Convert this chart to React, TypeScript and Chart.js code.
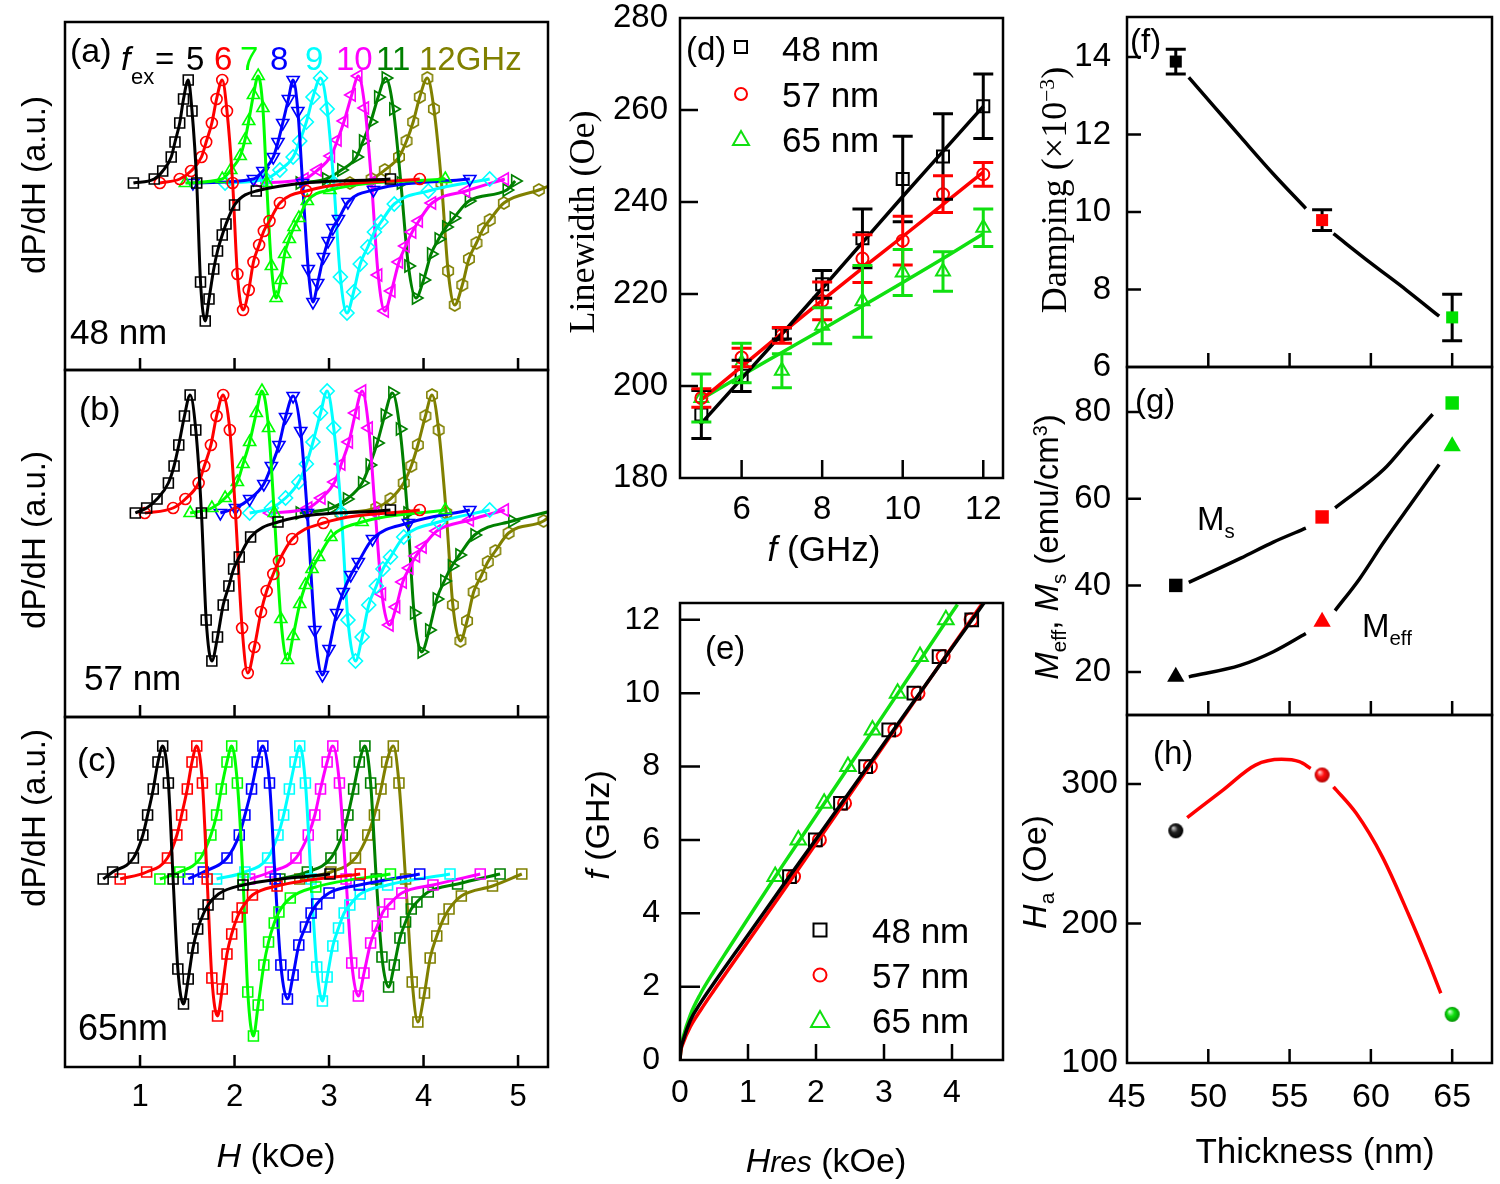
import React, { useEffect, useRef } from "react";
import { Chart, registerables } from "chart.js";
Chart.register(...registerables);

const SANS = '"Liberation Sans", Arial, Helvetica, sans-serif';
const SERIF = '"Liberation Serif", "Times New Roman", Times, serif';

// ---------------- (a) 48 nm : H (kOe) and dP/dH (a.u.) ----------------
const aH5 = [0.93, 1.15, 1.24, 1.33, 1.37, 1.42, 1.46, 1.51, 1.55, 1.60, 1.64, 1.69, 1.73, 1.78, 1.82, 1.87, 1.91, 2.00, 2.23, 3.65];
const aY5 = [0, 0.04, 0.12, 0.26, 0.41, 0.60, 0.84, 1.03, 0.72, 0, -0.99, -1.38, -1.16, -0.86, -0.68, -0.52, -0.41, -0.22, -0.08, 0.04];
const aH6 = [1.21, 1.42, 1.54, 1.65, 1.70, 1.76, 1.81, 1.87, 1.92, 1.98, 2.03, 2.09, 2.15, 2.20, 2.26, 2.31, 2.37, 2.48, 2.76, 3.96];
const aY6 = [0, 0.04, 0.12, 0.26, 0.41, 0.60, 0.84, 1.03, 0.72, 0, -0.91, -1.27, -1.07, -0.79, -0.62, -0.48, -0.38, -0.20, -0.08, 0.04];
const aH7 = [1.48, 1.87, 1.96, 2.06, 2.11, 2.15, 2.20, 2.25, 2.30, 2.34, 2.39, 2.44, 2.49, 2.53, 2.58, 2.63, 2.68, 2.77, 3.01, 4.23];
const aY7 = [0, 0.04, 0.13, 0.27, 0.43, 0.62, 0.88, 1.07, 0.75, 0, -0.83, -1.15, -0.97, -0.71, -0.56, -0.44, -0.35, -0.18, -0.07, 0.04];
const aH8 = [1.56, 2.20, 2.30, 2.41, 2.46, 2.51, 2.57, 2.62, 2.67, 2.72, 2.78, 2.83, 2.88, 2.94, 2.99, 3.04, 3.10, 3.20, 3.47, 4.49];
const aY8 = [0, 0.04, 0.12, 0.26, 0.41, 0.60, 0.84, 1.03, 0.72, 0, -0.86, -1.19, -1.00, -0.74, -0.58, -0.45, -0.36, -0.19, -0.07, 0.04];
const aH9 = [1.90, 2.33, 2.48, 2.62, 2.69, 2.76, 2.83, 2.91, 2.98, 3.05, 3.12, 3.19, 3.26, 3.33, 3.41, 3.48, 3.55, 3.69, 4.05, 4.70];
const aY9 = [0, 0.04, 0.13, 0.26, 0.42, 0.61, 0.86, 1.05, 0.74, 0, -0.94, -1.30, -1.09, -0.81, -0.64, -0.49, -0.39, -0.21, -0.08, 0.04];
const aH10 = [2.27, 2.74, 2.88, 3.02, 3.09, 3.16, 3.24, 3.31, 3.38, 3.45, 3.52, 3.59, 3.66, 3.74, 3.81, 3.88, 3.95, 4.09, 4.45, 4.86];
const aY10 = [0, 0.04, 0.13, 0.27, 0.43, 0.62, 0.88, 1.07, 0.75, 0, -0.92, -1.28, -1.08, -0.79, -0.63, -0.49, -0.38, -0.20, -0.08, 0.04];
const aH11 = [2.69, 2.97, 3.13, 3.29, 3.36, 3.44, 3.52, 3.60, 3.68, 3.76, 3.84, 3.92, 4.00, 4.08, 4.16, 4.24, 4.32, 4.48, 4.88, 4.97];
const aY11 = [0, 0.04, 0.13, 0.26, 0.42, 0.61, 0.86, 1.05, 0.74, 0, -0.83, -1.15, -0.97, -0.71, -0.56, -0.44, -0.35, -0.18, -0.07, 0.02];
const aH12 = [3.22, 3.45, 3.59, 3.74, 3.82, 3.89, 3.96, 4.04, 4.11, 4.19, 4.26, 4.33, 4.41, 4.48, 4.56, 4.63, 4.70, 4.85, 5.22, 5.40];
const aY12 = [0, 0.04, 0.13, 0.26, 0.42, 0.61, 0.86, 1.05, 0.74, 0, -0.88, -1.22, -1.02, -0.76, -0.60, -0.46, -0.37, -0.20, -0.07, 0];

// ---------------- (b) 57 nm ----------------
const bH5 = [0.95, 1.07, 1.18, 1.30, 1.36, 1.41, 1.47, 1.53, 1.59, 1.65, 1.70, 1.76, 1.82, 1.88, 1.94, 1.99, 2.05, 2.17, 2.46, 3.65];
const bY5 = [0, 0.05, 0.14, 0.30, 0.47, 0.68, 0.97, 1.18, 0.83, 0, -1.07, -1.48, -1.24, -0.92, -0.73, -0.56, -0.44, -0.24, -0.09, 0.03];
const bH6 = [1.05, 1.35, 1.48, 1.62, 1.68, 1.75, 1.81, 1.88, 1.95, 2.01, 2.08, 2.14, 2.21, 2.28, 2.34, 2.41, 2.47, 2.61, 2.94, 3.96];
const bY6 = [0, 0.05, 0.14, 0.30, 0.47, 0.68, 0.97, 1.18, 0.83, 0, -1.15, -1.60, -1.34, -0.99, -0.78, -0.61, -0.48, -0.26, -0.10, 0.03];
const bH7 = [1.53, 1.76, 1.90, 2.03, 2.09, 2.16, 2.23, 2.29, 2.36, 2.42, 2.49, 2.56, 2.62, 2.69, 2.75, 2.82, 2.89, 3.02, 3.35, 4.23];
const bY7 = [0, 0.05, 0.15, 0.31, 0.49, 0.71, 1.00, 1.22, 0.85, 0, -1.06, -1.47, -1.23, -0.91, -0.72, -0.56, -0.44, -0.24, -0.09, 0.03];
const bH8 = [1.85, 2.01, 2.16, 2.31, 2.39, 2.47, 2.54, 2.62, 2.70, 2.77, 2.85, 2.93, 3.00, 3.08, 3.15, 3.23, 3.31, 3.46, 3.84, 4.49];
const bY8 = [0, 0.05, 0.14, 0.29, 0.47, 0.68, 0.96, 1.17, 0.82, 0, -1.17, -1.62, -1.36, -1.00, -0.79, -0.62, -0.49, -0.26, -0.10, 0.03];
const bH9 = [2.16, 2.39, 2.54, 2.68, 2.76, 2.83, 2.91, 2.98, 3.05, 3.13, 3.20, 3.28, 3.35, 3.42, 3.50, 3.57, 3.65, 3.79, 4.16, 4.70];
const bY9 = [0, 0.05, 0.15, 0.31, 0.49, 0.71, 1.00, 1.22, 0.85, 0, -1.07, -1.48, -1.24, -0.92, -0.73, -0.56, -0.44, -0.24, -0.09, 0.03];
const bH10 = [2.38, 2.78, 2.92, 3.06, 3.13, 3.21, 3.28, 3.35, 3.42, 3.49, 3.56, 3.64, 3.71, 3.78, 3.85, 3.92, 3.99, 4.14, 4.49, 4.86];
const bY10 = [0, 0.05, 0.15, 0.31, 0.49, 0.71, 1.00, 1.22, 0.85, 0, -0.81, -1.12, -0.94, -0.69, -0.55, -0.43, -0.34, -0.18, -0.07, 0.03];
const bH11 = [2.69, 3.03, 3.19, 3.35, 3.43, 3.51, 3.59, 3.67, 3.75, 3.83, 3.90, 3.98, 4.06, 4.14, 4.22, 4.30, 4.38, 4.54, 4.94, 5.40];
const bY11 = [0, 0.05, 0.14, 0.30, 0.48, 0.70, 0.98, 1.20, 0.84, 0, -1.00, -1.39, -1.17, -0.86, -0.68, -0.53, -0.42, -0.22, -0.08, 0.03];
const bH12 = [3.12, 3.50, 3.65, 3.79, 3.87, 3.94, 4.02, 4.09, 4.16, 4.24, 4.31, 4.39, 4.46, 4.53, 4.61, 4.68, 4.76, 4.90, 5.27, 5.40];
const bY12 = [0, 0.05, 0.14, 0.30, 0.47, 0.68, 0.97, 1.18, 0.83, 0, -0.92, -1.28, -1.08, -0.79, -0.63, -0.49, -0.38, -0.20, -0.08, 0.02];

// ---------------- (c) 65 nm ----------------
const cH5 = [0.61, 0.71, 0.93, 1.03, 1.08, 1.14, 1.19, 1.24, 1.30, 1.35, 1.40, 1.46, 1.51, 1.56, 1.61, 1.67, 1.72, 1.83, 2.09, 3.01];
const cY5 = [0, 0.07, 0.21, 0.44, 0.64, 0.90, 1.17, 1.33, 0.96, 0, -0.90, -1.25, -1.00, -0.69, -0.50, -0.35, -0.26, -0.15, -0.06, 0.05];
const cH6 = [0.79, 1.07, 1.29, 1.39, 1.44, 1.50, 1.55, 1.60, 1.66, 1.71, 1.76, 1.82, 1.87, 1.92, 1.97, 2.03, 2.08, 2.19, 2.45, 3.33];
const cY6 = [0, 0.07, 0.21, 0.44, 0.64, 0.90, 1.17, 1.33, 0.96, 0, -0.99, -1.37, -1.10, -0.75, -0.55, -0.38, -0.29, -0.16, -0.07, 0.05];
const cH7 = [1.21, 1.42, 1.64, 1.75, 1.81, 1.86, 1.92, 1.97, 2.03, 2.09, 2.14, 2.20, 2.25, 2.31, 2.36, 2.42, 2.47, 2.59, 2.86, 3.65];
const cY7 = [0, 0.07, 0.21, 0.44, 0.64, 0.90, 1.17, 1.33, 0.96, 0, -1.13, -1.57, -1.26, -0.86, -0.63, -0.44, -0.33, -0.19, -0.08, 0.05];
const cH8 = [1.51, 1.67, 1.92, 2.05, 2.11, 2.18, 2.24, 2.30, 2.37, 2.43, 2.49, 2.56, 2.62, 2.68, 2.75, 2.81, 2.87, 3.00, 3.32, 3.96];
const cY8 = [0, 0.07, 0.21, 0.44, 0.64, 0.90, 1.17, 1.33, 0.96, 0, -0.86, -1.20, -0.96, -0.66, -0.48, -0.34, -0.25, -0.14, -0.06, 0.05];
const cH9 = [1.81, 2.11, 2.35, 2.46, 2.52, 2.58, 2.64, 2.69, 2.75, 2.81, 2.87, 2.93, 2.98, 3.04, 3.10, 3.16, 3.22, 3.33, 3.62, 4.28];
const cY9 = [0, 0.07, 0.21, 0.44, 0.64, 0.90, 1.17, 1.33, 0.96, 0, -0.88, -1.22, -0.98, -0.67, -0.49, -0.34, -0.26, -0.15, -0.06, 0.05];
const cH10 = [2.16, 2.38, 2.65, 2.78, 2.85, 2.91, 2.98, 3.04, 3.11, 3.18, 3.24, 3.31, 3.37, 3.44, 3.51, 3.57, 3.64, 3.77, 4.10, 4.60];
const cY10 = [0, 0.07, 0.21, 0.44, 0.64, 0.90, 1.17, 1.33, 0.96, 0, -0.84, -1.17, -0.94, -0.64, -0.47, -0.33, -0.25, -0.14, -0.06, 0.05];
const cH11 = [2.48, 2.77, 3.02, 3.14, 3.20, 3.26, 3.32, 3.38, 3.44, 3.50, 3.56, 3.63, 3.69, 3.75, 3.81, 3.87, 3.93, 4.05, 4.36, 4.81];
const cY11 = [0, 0.07, 0.21, 0.44, 0.64, 0.90, 1.17, 1.33, 0.96, 0, -0.78, -1.08, -0.86, -0.59, -0.43, -0.30, -0.23, -0.13, -0.05, 0.05];
const cH12 = [2.69, 3.02, 3.28, 3.41, 3.48, 3.55, 3.61, 3.68, 3.74, 3.81, 3.88, 3.94, 4.01, 4.07, 4.14, 4.21, 4.27, 4.40, 4.73, 5.04];
const cY12 = [0, 0.07, 0.21, 0.44, 0.64, 0.90, 1.17, 1.33, 0.96, 0, -1.03, -1.43, -1.14, -0.79, -0.57, -0.40, -0.30, -0.17, -0.07, 0.05];

const hTicks = [1, 2, 3, 4, 5];

// ---------------- (d) linewidth vs f ----------------
const dFreq = [5, 6, 7, 8, 9, 10, 11, 12];
const lw48 = [193.8, 202.2, 211.4, 222.1, 232.1, 245.0, 249.9, 260.8];
const lw48Err = [5.2, 3.4, 1.2, 3.0, 6.4, 9.3, 9.3, 7.0];
const lw57 = [197.4, 206.2, 211.0, 218.5, 227.7, 231.6, 241.7, 246.0];
const lw57Err = [2.0, 2.0, 1.7, 4.1, 5.2, 5.3, 4.0, 2.6];
const lw65 = [197.4, 205.0, 203.3, 213.1, 218.4, 224.7, 224.9, 234.4];
const lw65Err = [5.2, 4.3, 3.7, 3.9, 7.8, 5.0, 4.3, 4.1];
const dFitF = [4.97, 6, 7, 8, 9, 10, 11, 12];
const dFit48 = [191.6, 201.6, 211.3, 221.2, 231.2, 241.2, 251.0, 260.8];
const dFit57 = [196.8, 204.2, 211.5, 218.6, 225.6, 232.5, 239.5, 246.5];
const dFit65 = [197.0, 202.3, 207.3, 212.3, 217.4, 222.5, 227.7, 233.1];
const dXTicks = [6, 8, 10, 12];
const dYTicks = [180, 200, 220, 240, 260, 280];

// ---------------- (e) f vs Hres ----------------
const eFreq = [5, 6, 7, 8, 9, 10, 11, 12];
const eH48 = [1.61, 1.99, 2.36, 2.73, 3.07, 3.44, 3.81, 4.29];
const eH57 = [1.67, 2.05, 2.42, 2.80, 3.16, 3.50, 3.87, 4.28];
const eH65 = [1.40, 1.74, 2.12, 2.47, 2.83, 3.20, 3.53, 3.91];
const kH48 = [0, 0.01, 0.05, 0.15, 0.3, 0.5, 0.8, 1.0, 1.5, 2.0, 3.0, 4.0, 4.47];
const kF48 = [0, 0.25, 0.55, 1.07, 1.55, 2.10, 2.89, 3.41, 4.72, 6.02, 8.63, 11.24, 12.46];
const kH57 = [0, 0.01, 0.05, 0.15, 0.3, 0.5, 0.8, 1.0, 1.5, 2.0, 3.0, 4.0, 4.45];
const kF57 = [0, 0.22, 0.48, 0.9, 1.35, 1.9, 2.7, 3.23, 4.56, 5.9, 8.58, 11.26, 12.46];
const kH65 = [0, 0.01, 0.05, 0.15, 0.3, 0.5, 0.7, 1.0, 1.5, 2.0, 3.0, 4.0, 4.08];
const kF65 = [0, 0.28, 0.64, 1.22, 1.8, 2.42, 3.0, 3.86, 5.28, 6.66, 9.43, 12.2, 12.42];
const eXTicks = [0, 1, 2, 3, 4];
const eYTicks = [0, 2, 4, 6, 8, 10, 12];

// ---------------- (f) (g) (h) vs thickness ----------------
const thick = [48, 57, 65];
const damping = [13.88, 9.79, 7.28];
const dampErr = [0.32, 0.27, 0.6];
const dampFitT = [48.8, 50.4, 52.0, 54.0, 56.0, 56.9, 57.7, 60.0, 62.2, 64.2];
const dampFitV = [13.47, 12.70, 11.93, 10.98, 10.09, null, 9.44, 8.68, 7.98, 7.31];
const msVals = [40.0, 55.8, 82.1];
const meffVals = [18.9, 31.6, 72.1];
const msFitT = [48.8, 52.0, 54.0, 56.0, 56.9, 57.8, 60.8, 62.3, 63.8];
const msFitV = [40.7, 46.3, 50.0, 53.2, null, 57.9, 66.8, 73.2, 79.5];
const meffFitT = [48.8, 52.0, 54.0, 56.0, 56.9, 57.8, 59.3, 60.8, 62.5, 64.2];
const meffFitV = [18.9, 21.6, 24.7, 28.9, null, 34.2, 41.5, 50.0, 59.0, 67.9];
const haVals = [266.5, 306.5, 134.9];
const haFitT = [48.7, 50.9, 52.9, 54.5, 55.6, 56.3, 57.0, 57.7, 59.1, 60.7, 62.3, 63.5, 64.3];
const haFitV = [276, 295.7, 313.6, 317.7, 316, 311.2, null, 298, 279, 248, 207, 173.7, 150];
const tXTicks = [45, 50, 55, 60, 65];
const tXMarks = [50, 55, 60, 65];

// ---------------- styles ----------------
const FREQ_COLORS = ["#000000", "#ff0000", "#00ff00", "#0000ff", "#00ffff", "#ff00ff", "#008000", "#808000"];
const T_COLORS = ["#000000", "#ff0000", "#00e000"];
const GREEN = "#10e010";

const zip = (xs: number[], ys: (number | null)[]) => xs.map((x, i) => ({ x, y: ys[i] }));

function makeHex(color: string, r: number): HTMLCanvasElement {
  const s = Math.ceil(r * 2 + 4);
  const c = document.createElement("canvas");
  c.width = s; c.height = s;
  const g = c.getContext("2d")!;
  g.strokeStyle = color; g.lineWidth = 1.6;
  g.beginPath();
  for (let k = 0; k < 6; k++) {
    const a = Math.PI / 6 + (k * Math.PI) / 3;
    const px = s / 2 + r * Math.cos(a), py = s / 2 + r * Math.sin(a);
    if (k === 0) g.moveTo(px, py); else g.lineTo(px, py);
  }
  g.closePath(); g.stroke();
  return c;
}

function makeBall(light: string, mid: string, dark: string, r: number): HTMLCanvasElement {
  const s = Math.ceil(r * 2 + 2);
  const c = document.createElement("canvas");
  c.width = s; c.height = s;
  const g = c.getContext("2d")!;
  const grad = g.createRadialGradient(s / 2 - r * 0.35, s / 2 - r * 0.4, r * 0.05, s / 2, s / 2, r);
  grad.addColorStop(0, light); grad.addColorStop(0.45, mid); grad.addColorStop(1, dark);
  g.fillStyle = grad;
  g.beginPath(); g.arc(s / 2, s / 2, r, 0, Math.PI * 2); g.fill();
  return c;
}

// ---------------- plugins ----------------
const framePlugin = {
  id: "frame",
  afterDraw(chart: any, _a: any, opts: any) {
    const { ctx, chartArea: a, scales } = chart;
    ctx.save();
    ctx.strokeStyle = "#000";
    ctx.lineWidth = 2.5;
    ctx.beginPath();
    (opts.xMarks || []).forEach((v: number) => {
      const px = scales.x.getPixelForValue(v);
      ctx.moveTo(px, a.bottom); ctx.lineTo(px, a.bottom - opts.xLen);
    });
    (opts.yMarks || []).forEach((v: number) => {
      const py = scales.y.getPixelForValue(v);
      ctx.moveTo(a.left, py); ctx.lineTo(a.left + opts.yLen, py);
    });
    ctx.stroke();
    ctx.strokeRect(a.left, a.top, a.right - a.left, a.bottom - a.top);
    ctx.restore();
  },
};

function drawErr(chart: any, behind: boolean) {
  const { ctx, scales } = chart;
  chart.data.datasets.forEach((ds: any) => {
    if (!ds.errors || !!ds.errBehind !== behind) return;
    ctx.save();
    ctx.strokeStyle = ds.errColor || ds.pointBorderColor;
    ctx.lineWidth = ds.errWidth || 3;
    const cap = ds.capHalf || 10;
    ds.data.forEach((p: any, j: number) => {
      const e = ds.errors[j];
      if (e == null || p.y == null) return;
      const x = scales.x.getPixelForValue(p.x);
      const y1 = scales.y.getPixelForValue(p.y + e);
      const y2 = scales.y.getPixelForValue(p.y - e);
      ctx.beginPath();
      ctx.moveTo(x, y1); ctx.lineTo(x, y2);
      ctx.moveTo(x - cap, y1); ctx.lineTo(x + cap, y1);
      ctx.moveTo(x - cap, y2); ctx.lineTo(x + cap, y2);
      ctx.stroke();
    });
    ctx.restore();
  });
}
const errPlugin = {
  id: "errbars",
  beforeDatasetsDraw(chart: any) { drawErr(chart, true); },
  afterDatasetsDraw(chart: any) { drawErr(chart, false); },
};

// ---------------- config builder ----------------
type Rect = { x: number; y: number; w: number; h: number };
type Frame = { l: number; t: number; r: number; b: number };
interface Spec {
  frame: Frame;
  x: [number, number];
  y: [number, number];
  xLabels?: number[]; yLabels?: number[];
  xFont?: number; yFont?: number; xPad?: number; yPad?: number;
  xMarks?: number[]; yMarks?: number[]; xLen?: number; yLen?: number;
  datasets: any[];
}

function zeroPad(s: any) {
  s.paddingTop = 0; s.paddingBottom = 0; s.paddingLeft = 0; s.paddingRight = 0;
}

function buildConfig(rect: Rect, p: Spec): any {
  const L = p.frame.l - rect.x, T = p.frame.t - rect.y;
  const R = rect.x + rect.w - p.frame.r, B = rect.y + rect.h - p.frame.b;
  const xShow = !!p.xLabels, yShow = !!p.yLabels;
  return {
    type: "line",
    data: { datasets: p.datasets },
    options: {
      animation: false,
      responsive: false,
      maintainAspectRatio: false,
      devicePixelRatio: 1,
      events: [],
      layout: { autoPadding: false, padding: { left: yShow ? 0 : L, right: R, top: T, bottom: xShow ? 0 : B } },
      plugins: {
        legend: { display: false },
        tooltip: { enabled: false },
        frame: { xMarks: p.xMarks || [], yMarks: p.yMarks || [], xLen: p.xLen || 12, yLen: p.yLen || 12 },
      },
      scales: {
        x: {
          type: "linear", position: "bottom", min: p.x[0], max: p.x[1], display: xShow,
          grid: { display: false, drawTicks: false }, border: { display: false },
          ticks: { font: { family: SANS, size: p.xFont || 30 }, color: "#000", padding: p.xPad ?? 12, maxRotation: 0, minRotation: 0, autoSkip: false },
          afterBuildTicks: (s: any) => { s.ticks = (p.xLabels || []).map((v) => ({ value: v })); },
          afterFit: (s: any) => { s.height = xShow ? B : 0; zeroPad(s); },
        },
        y: {
          type: "linear", position: "left", min: p.y[0], max: p.y[1], display: yShow,
          grid: { display: false, drawTicks: false }, border: { display: false },
          ticks: { font: { family: SANS, size: p.yFont || 30 }, color: "#000", padding: p.yPad ?? 12, autoSkip: false },
          afterBuildTicks: (s: any) => { s.ticks = (p.yLabels || []).map((v) => ({ value: v })); },
          afterFit: (s: any) => { s.width = yShow ? L : 0; zeroPad(s); },
        },
      },
    },
    plugins: [framePlugin, errPlugin],
  };
}

function Panel({ rect, make }: { rect: Rect; make: () => Spec }) {
  const ref = useRef<HTMLCanvasElement>(null);
  useEffect(() => {
    const chart = new Chart(ref.current as HTMLCanvasElement, buildConfig(rect, make()));
    return () => chart.destroy();
  }, []);
  return (
    <canvas
      ref={ref}
      width={rect.w}
      height={rect.h}
      style={{ position: "absolute", left: rect.x, top: rect.y, width: rect.w, height: rect.h }}
    />
  );
}

// ---------------- dataset helpers ----------------
function curve(xs: number[], ys: number[], color: string, style: any, rot: number, r: number) {
  return {
    data: zip(xs, ys),
    borderColor: color,
    borderWidth: 3,
    cubicInterpolationMode: "monotone",
    pointStyle: style,
    pointRotation: rot,
    pointRadius: r,
    pointBorderColor: color,
    pointBackgroundColor: "rgba(0,0,0,0)",
    pointBorderWidth: 1.6,
    showLine: true,
    fill: false,
  };
}
function fitLine(xs: number[], ys: (number | null)[], color: string, w = 3.5) {
  return {
    data: zip(xs, ys),
    borderColor: color,
    borderWidth: w,
    cubicInterpolationMode: "monotone",
    pointRadius: 0,
    showLine: true,
    spanGaps: false,
    fill: false,
  };
}
function markers(xs: number[], ys: number[], color: string, style: any, r: number, filled: boolean, extra: any = {}) {
  return {
    data: zip(xs, ys),
    showLine: false,
    pointStyle: style,
    pointRadius: r,
    pointBorderColor: color,
    pointBackgroundColor: filled ? color : "rgba(0,0,0,0)",
    pointBorderWidth: filled ? 0 : 2,
    borderColor: color,
    ...extra,
  };
}

const H_RANGE: [number, number] = [0.206, 5.317];

function abDatasets(series: number[][][]) {
  const ms: [any, number, number][] = [
    ["rect", 0, 7], ["circle", 0, 5.5], ["triangle", 0, 7], ["triangle", 180, 7],
    ["rectRot", 0, 7], ["triangle", 270, 7], ["triangle", 90, 7], [makeHex(FREQ_COLORS[7], 6), 0, 7],
  ];
  return series.map(([hs, ys], i) => curve(hs, ys, FREQ_COLORS[i], ms[i][0], ms[i][1], ms[i][2]));
}

const RECT_A: Rect = { x: 0, y: 0, w: 560, h: 380 };
const RECT_B: Rect = { x: 0, y: 360, w: 560, h: 367 };
const RECT_C: Rect = { x: 0, y: 707, w: 560, h: 477 };
const RECT_D: Rect = { x: 560, y: 0, w: 450, h: 545 };
const RECT_E: Rect = { x: 560, y: 580, w: 450, h: 560 };
const RECT_F: Rect = { x: 1010, y: 0, w: 490, h: 392 };
const RECT_G: Rect = { x: 1010, y: 357, w: 490, h: 368 };
const RECT_H: Rect = { x: 1010, y: 705, w: 490, h: 479 };

const specA = (): Spec => ({
  frame: { l: 65, t: 22, r: 548, b: 370 }, x: H_RANGE, y: [-1.87, 1.61], xMarks: hTicks, xLen: 12,
  datasets: abDatasets([[aH5, aY5], [aH6, aY6], [aH7, aY7], [aH8, aY8], [aH9, aY9], [aH10, aY10], [aH11, aY11], [aH12, aY12]]),
});
const specB = (): Spec => ({
  frame: { l: 65, t: 370, r: 548, b: 717 }, x: H_RANGE, y: [-2.04, 1.43], xMarks: hTicks, xLen: 12,
  datasets: abDatasets([[bH5, bY5], [bH6, bY6], [bH7, bY7], [bH8, bY8], [bH9, bY9], [bH10, bY10], [bH11, bY11], [bH12, bY12]]),
});
const specC = (): Spec => ({
  frame: { l: 65, t: 717, r: 548, b: 1067 }, x: H_RANGE, y: [-1.88, 1.62], xMarks: hTicks, xLen: 12,
  xLabels: hTicks, xFont: 31, xPad: 12,
  datasets: [[cH5, cY5], [cH6, cY6], [cH7, cY7], [cH8, cY8], [cH9, cY9], [cH10, cY10], [cH11, cY11], [cH12, cY12]].map(
    ([hs, ys], i) => curve(hs, ys, FREQ_COLORS[i], "rect", 0, 7)
  ),
});
const specD = (): Spec => ({
  frame: { l: 680, t: 18, r: 1003, b: 478 }, x: [4.47, 12.49], y: [180, 280],
  xLabels: dXTicks, yLabels: dYTicks, xFont: 33, yFont: 33, xPad: 12, yPad: 12,
  xMarks: dXTicks, yMarks: [200, 220, 240, 260], xLen: 18, yLen: 18,
  datasets: [
    fitLine(dFitF, dFit48, "#000"),
    fitLine(dFitF, dFit57, "#ff0000"),
    fitLine(dFitF, dFit65, GREEN),
    markers(dFreq, lw48, "#000", "rect", 8.5, false, { errors: lw48Err, errColor: "#000", capHalf: 10 }),
    markers(dFreq, lw57, "#ff0000", "circle", 6, false, { errors: lw57Err, errColor: "#ff0000", capHalf: 10 }),
    markers(dFreq, lw65, GREEN, "triangle", 8, false, { errors: lw65Err, errColor: GREEN, capHalf: 10 }),
  ],
});
const specE = (): Spec => ({
  frame: { l: 680, t: 603, r: 1003, b: 1060 }, x: [0, 4.75], y: [0, 12.46],
  xLabels: eXTicks, yLabels: eYTicks, xFont: 32, yFont: 32, xPad: 14, yPad: 20,
  xMarks: [1, 2, 3, 4], yMarks: [2, 4, 6, 8, 10, 12], xLen: 16, yLen: 20,
  datasets: [
    fitLine(kH48, kF48, "#000"),
    fitLine(kH57, kF57, "#ff0000"),
    fitLine(kH65, kF65, GREEN),
    markers(eH48, eFreq, "#000", "rect", 9, false),
    markers(eH57, eFreq, "#ff0000", "circle", 6.5, false),
    markers(eH65, eFreq, GREEN, "triangle", 9, false),
  ],
});
const specF = (): Spec => ({
  frame: { l: 1127, t: 17, r: 1492, b: 367 }, x: [45, 67.45], y: [6, 15.03],
  yLabels: [6, 8, 10, 12, 14], yFont: 33, yPad: 16,
  xMarks: tXMarks, yMarks: [8, 10, 12, 14], xLen: 14, yLen: 14,
  datasets: [
    fitLine(dampFitT, dampFitV, "#000"),
    ...thick.map((t, i) =>
      markers([t], [damping[i]], T_COLORS[i], "rect", 8.5, true, { errors: [dampErr[i]], errColor: "#000", errBehind: true, capHalf: 10 })
    ),
  ],
});
const specG = (): Spec => ({
  frame: { l: 1127, t: 367, r: 1492, b: 715 }, x: [45, 67.45], y: [10.1, 90.4],
  yLabels: [20, 40, 60, 80], yFont: 33, yPad: 16,
  xMarks: tXMarks, yMarks: [20, 40, 60, 80], xLen: 14, yLen: 14,
  datasets: [
    fitLine(msFitT, msFitV, "#000"),
    fitLine(meffFitT, meffFitV, "#000"),
    ...thick.map((t, i) => markers([t], [msVals[i]], T_COLORS[i], "rect", 9.5, true)),
    ...thick.map((t, i) => markers([t], [meffVals[i]], T_COLORS[i], "triangle", 10, true)),
  ],
});
const specH = (): Spec => {
  const balls = [
    makeBall("#cccccc", "#222222", "#000000", 7.5),
    makeBall("#ffd0d0", "#ff1010", "#b00000", 7.5),
    makeBall("#d0ffd0", "#10e010", "#009000", 7.5),
  ];
  return {
    frame: { l: 1127, t: 715, r: 1492, b: 1063 }, x: [45, 67.45], y: [100, 349.5],
    xLabels: tXTicks, yLabels: [100, 200, 300], xFont: 34, yFont: 34, xPad: 14, yPad: 9,
    xMarks: tXMarks, yMarks: [200, 300], xLen: 14, yLen: 14,
    datasets: [
      fitLine(haFitT, haFitV, "#ff0000"),
      ...thick.map((t, i) => markers([t], [haVals[i]], T_COLORS[i], balls[i], 8, true)),
    ],
  };
};

// ---------------- text overlay ----------------
type TP = {
  x: number; y: number; size?: number; color?: string; family?: string; italic?: boolean;
  anchor?: "left" | "center"; rot?: boolean; children: React.ReactNode;
};
function Tx({ x, y, size = 32, color = "#000", family = SANS, italic = false, anchor = "left", rot = false, children }: TP) {
  const tr = rot ? "translate(-50%, -50%) rotate(-90deg)" : anchor === "center" ? "translate(-50%, -50%)" : "translate(0, -50%)";
  return (
    <div
      style={{
        position: "absolute", left: x, top: y, fontSize: size, color, fontFamily: family,
        fontStyle: italic ? "italic" : "normal", whiteSpace: "nowrap", lineHeight: 1, transform: tr,
      }}
    >
      {children}
    </div>
  );
}
const Sub = ({ children }: { children: React.ReactNode }) => (
  <span style={{ fontSize: "0.62em", position: "relative", top: "0.4em", fontStyle: "normal" }}>{children}</span>
);
const Sup = ({ children }: { children: React.ReactNode }) => (
  <span style={{ fontSize: "0.6em", position: "relative", top: "-0.55em" }}>{children}</span>
);

export default function App() {
  return (
    <div style={{ position: "absolute", left: 0, top: 0, width: 1500, height: 1184, background: "#fff", overflow: "hidden" }}>
      <Panel rect={RECT_A} make={specA} />
      <Panel rect={RECT_B} make={specB} />
      <Panel rect={RECT_C} make={specC} />
      <Panel rect={RECT_D} make={specD} />
      <Panel rect={RECT_E} make={specE} />
      <Panel rect={RECT_F} make={specF} />
      <Panel rect={RECT_G} make={specG} />
      <Panel rect={RECT_H} make={specH} />

      <svg width={1500} height={1184} style={{ position: "absolute", left: 0, top: 0, pointerEvents: "none" }}>
        <rect x={735} y={41} width={12} height={12} fill="none" stroke="#000" strokeWidth={2} />
        <circle cx={741} cy={94} r={6} fill="none" stroke="#ff0000" strokeWidth={2} />
        <polygon points="741,131 749,145 733,145" fill="none" stroke={GREEN} strokeWidth={2} />
        <rect x={813.5} y={923.5} width={13} height={13} fill="none" stroke="#000" strokeWidth={2} />
        <circle cx={820} cy={975} r={6.5} fill="none" stroke="#ff0000" strokeWidth={2} />
        <polygon points="820,1011 829,1027 811,1027" fill="none" stroke={GREEN} strokeWidth={2} />
      </svg>

      {/* left column */}
      <Tx x={33} y={185} size={33} rot>dP/dH (a.u.)</Tx>
      <Tx x={33} y={540} size={33} rot>dP/dH (a.u.)</Tx>
      <Tx x={33} y={818} size={33} rot>dP/dH (a.u.)</Tx>
      <Tx x={70} y={50} size={34}>(a)</Tx>
      <Tx x={121} y={58} size={34} italic>f</Tx>
      <Tx x={131} y={77} size={22}>ex</Tx>
      <Tx x={155} y={58} size={33}>=</Tx>
      <Tx x={186} y={58} size={33}>5</Tx>
      <Tx x={214} y={58} size={33} color={FREQ_COLORS[1]}>6</Tx>
      <Tx x={240} y={58} size={33} color={FREQ_COLORS[2]}>7</Tx>
      <Tx x={270} y={58} size={33} color={FREQ_COLORS[3]}>8</Tx>
      <Tx x={305} y={58} size={33} color={FREQ_COLORS[4]}>9</Tx>
      <Tx x={336} y={58} size={33} color={FREQ_COLORS[5]}>10</Tx>
      <Tx x={376} y={58} size={33} color={FREQ_COLORS[6]}>11</Tx>
      <Tx x={419} y={58} size={33} color={FREQ_COLORS[7]}>12GHz</Tx>
      <Tx x={70} y={331} size={35}>48 nm</Tx>
      <Tx x={79} y={408} size={34}>(b)</Tx>
      <Tx x={84} y={677} size={35}>57 nm</Tx>
      <Tx x={77} y={759} size={34}>(c)</Tx>
      <Tx x={78} y={1028} size={36}>65nm</Tx>
      <Tx x={276} y={1155} size={34} anchor="center"><i>H</i> (kOe)</Tx>

      {/* middle column */}
      <Tx x={582} y={222} size={36} family={SERIF} rot>Linewidth (Oe)</Tx>
      <Tx x={824} y={548} size={35} anchor="center"><i>f</i> (GHz)</Tx>
      <Tx x={686} y={48} size={33}>(d)</Tx>
      <Tx x={782} y={48} size={35}>48 nm</Tx>
      <Tx x={782} y={94} size={35}>57 nm</Tx>
      <Tx x={782} y={139} size={35}>65 nm</Tx>
      <Tx x={597} y={825} size={34} rot><i>f</i> (GHz)</Tx>
      <Tx x={826} y={1160} size={34} anchor="center"><i>H<span style={{ fontSize: "0.88em" }}>res</span></i> (kOe)</Tx>
      <Tx x={705} y={647} size={33}>(e)</Tx>
      <Tx x={872} y={930} size={35}>48 nm</Tx>
      <Tx x={872} y={975} size={35}>57 nm</Tx>
      <Tx x={872} y={1020} size={35}>65 nm</Tx>

      {/* right column */}
      <Tx x={1054} y={190} size={36} family={SERIF} rot>Damping (×10<Sup>−3</Sup>)</Tx>
      <Tx x={1046} y={547} size={33} rot><i>M</i><Sub>eff</Sub>, <i>M</i><Sub>s</Sub> (emu/cm<Sup>3</Sup>)</Tx>
      <Tx x={1034} y={872} size={34} rot><i>H</i><Sub>a</Sub> (Oe)</Tx>
      <Tx x={1315} y={1150} size={35} anchor="center">Thickness (nm)</Tx>
      <Tx x={1130} y={40} size={33}>(f)</Tx>
      <Tx x={1135} y={400} size={33}>(g)</Tx>
      <Tx x={1153} y={752} size={33}>(h)</Tx>
      <Tx x={1197} y={518} size={33}>M<Sub>s</Sub></Tx>
      <Tx x={1362} y={625} size={33}>M<Sub>eff</Sub></Tx>
    </div>
  );
}
